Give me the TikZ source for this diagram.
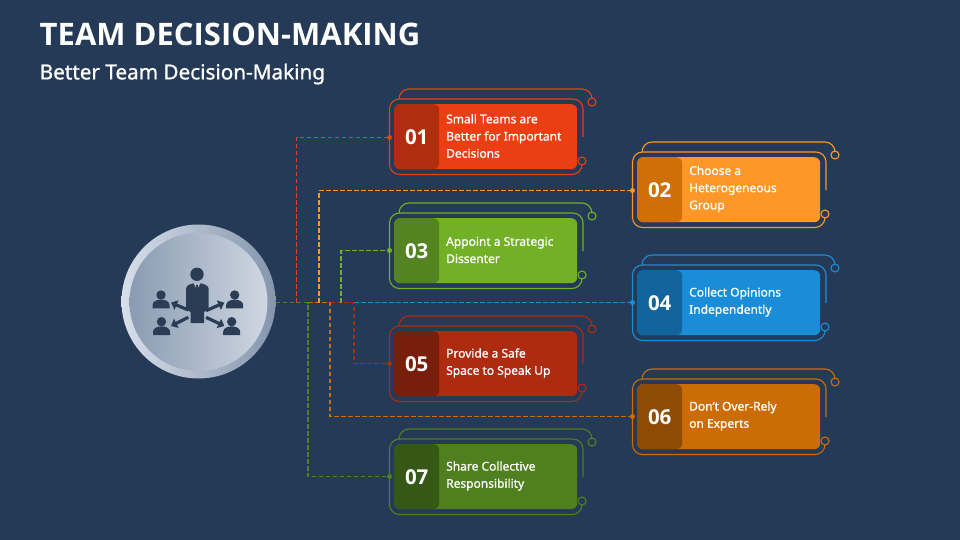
\documentclass[tikz,border=0pt]{standalone}
\usepackage{fontspec}
\setmainfont{Noto Sans}
\newfontfamily\bodyf[FakeBold=1]{Noto Sans}
\newfontfamily\headf{Open Sans}
\usetikzlibrary{arrows.meta}
\definecolor{bg}{HTML}{243A56}
\definecolor{icon}{HTML}{2B3D55}
\definecolor{hubL}{HTML}{8A9BB2}\definecolor{hubR}{HTML}{CFD7E2}
\definecolor{rimL}{HTML}{D8DFEA}\definecolor{rimR}{HTML}{8495AD}
\definecolor{ca}{HTML}{EC3E13}\definecolor{cad}{HTML}{B02E0E}
\definecolor{cb}{HTML}{FD9727}\definecolor{cbd}{HTML}{CF6F06}
\definecolor{cc}{HTML}{72B026}\definecolor{ccd}{HTML}{548420}
\definecolor{cd}{HTML}{1A8DD8}\definecolor{cdd}{HTML}{11649E}
\definecolor{ce}{HTML}{AF2B0F}\definecolor{ced}{HTML}{781E0A}
\definecolor{cf}{HTML}{CC6C04}\definecolor{cfd}{HTML}{8E4B03}
\definecolor{cg}{HTML}{4F7F1F}\definecolor{cgd}{HTML}{365816}
\tikzset{
  x=1pt,y=-1pt,
  cardbody/.style={rounded corners=6pt,minimum width=183pt,minimum height=65pt,inner sep=0pt,anchor=north west},
  numbox/.style={rounded corners=6pt,minimum width=45pt,minimum height=65pt,inner sep=0pt,anchor=north west,text=white,font=\headf\fontsize{20.5}{20.5}\selectfont\bfseries},
  cardtext/.style={anchor=west,align=left,inner sep=0pt,text=white,font=\bodyf\fontsize{12}{17.2}\selectfont},
  ringline/.style={line width=1.1pt,rounded corners=10pt},
  ringdot/.style={line width=1.1pt},
  link/.style={line width=1.1pt,dash pattern=on 4.5pt off 2.5pt},
  iconarrow/.style={icon,line width=3.2pt,-{Triangle[length=6pt,width=10pt]}},
}
\newcommand{\card}[8]{% name,x,y,fill,dark,num,text,dot y offset
  \draw[ringline,#4] (#2+5,#3-5) -- (#2+5,#3-15) -- (#2+198,#3-15) -- (#2+198,#3-6);
  \draw[ringdot,#4] (#2+198,#3-2) circle[radius=4];
  \draw[ringline,#4] (#2+189,#3+33) -- (#2+189,#3-5) -- (#2-4.5,#3-5) -- (#2-4.5,#3+70.5) -- (#2+188,#3+70.5) -- (#2+188,#3+61);
  \draw[ringdot,#4] (#2+188,#3+57) circle[radius=4];
  \node[cardbody,fill=#4] (#1) at (#2,#3) {};
  \node[numbox,fill=#5] (#1n) at (#2,#3) {#6};
  \node[cardtext] (#1t) at (#2+52,#3+32) {#7};
  \coordinate (#1p) at (#2-4.5,#3+#8);
  \fill[#4] (#1p) circle[radius=2.5];
}
\newcommand{\person}[2]{% head x, head y
  \fill[icon] (#1,#2) circle[radius=4.7];
  \fill[icon] (#1-8.5,#2+13.3) -- (#1-8.5,#2+10) .. controls (#1-8.5,#2+6.5) and (#1-4,#2+4.6) .. (#1,#2+4.6) .. controls (#1+4,#2+4.6) and (#1+8.5,#2+6.5) .. (#1+8.5,#2+10) -- (#1+8.5,#2+13.3) -- cycle;
}
\begin{document}
\begin{tikzpicture}
\useasboundingbox (0,0) rectangle (960,540);
\fill[bg] (0,0) rectangle (960,540);
\node[anchor=west,inner sep=0pt,text=white,font=\headf\fontsize{31}{31}\selectfont\bfseries] (title) at (39.5,34.5) {TEAM DECISION-MAKING};
\node[anchor=west,inner sep=0pt,text=white,font=\bodyf\fontsize{20.7}{20.7}\selectfont] (sub) at (39.5,74) {Better Team Decision-Making};

\card{c1}{394}{104}{ca}{cad}{01}{Small Teams are\\Better for Important\\Decisions}{33.5}
\card{c2}{637}{157}{cb}{cbd}{02}{Choose a\\Heterogeneous\\Group}{33.5}
\card{c3}{394}{218}{cc}{ccd}{03}{Appoint a Strategic\\Dissenter}{32.5}
\card{c4}{637}{270}{cd}{cdd}{04}{Collect Opinions\\Independently}{32.5}
\card{c5}{394}{331}{ce}{ced}{05}{Provide a Safe\\Space to Speak Up}{32.5}
\card{c6}{637}{384}{cf}{cfd}{06}{Don’t Over-Rely\\on Experts}{32.5}
\card{c7}{394}{444}{cg}{cgd}{07}{Share Collective\\Responsibility}{32.5}

% hub circle
\node[circle,minimum size=154pt,inner sep=0pt,left color=rimL,right color=rimR] (hubouter) at (198.5,301.5) {};
\node[circle,minimum size=138pt,inner sep=0pt,left color=hubL,right color=hubR] (hub) at (198.5,302) {};

% junctions on the shared trunk
\coordinate (jh) at (hubouter.east |- c4p);
\coordinate (ja) at (296.5,302.5);
\coordinate (jg) at (308,302.5);
\coordinate (jb) at (319,302.5);
\coordinate (jf) at (330,302.5);
\coordinate (jc) at (341,302.5);
\coordinate (je) at (354,302.5);

% connectors
\draw[link,cd] (je) -- (c4p);
\draw[link,ce] (jf) -- (je) |- (c5p);
\draw[link,cc] (jc) |- (c3p);
\draw[link,cf] (jg) -- (jf) |- (c6p);
\draw[link,cb] (jb) |- (c2p);
\draw[link,ca] (ja) |- (c1p);
\draw[link,cg] (jh) -- (jg) |- (c7p);

% icon
\fill[icon] (197,274.3) circle[radius=6.7];
\fill[icon] (186,289) .. controls (186,285.5) and (190,284) .. (193.5,283.3) -- (197,290) -- (200.5,283.3) .. controls (204,284) and (208.7,285.5) .. (208.7,289) -- (208.7,309) -- (204,312) -- (204,323) -- (190.5,323) -- (190.5,312) -- (186,309) -- cycle;
\fill[white!75!icon] (194.5,283.8) -- (197,290) -- (199.5,283.8) -- cycle;
\fill[icon] (196,284.5) -- (198,284.5) -- (198.4,292) -- (197,294) -- (195.6,292) -- cycle;
\person{161}{295}
\person{234.7}{295}
\person{161.5}{321.7}
\person{231.7}{321.7}
\draw[iconarrow] (188.3,310) -- (171,302.7);
\draw[iconarrow] (188.3,317.3) -- (171,326);
\draw[iconarrow] (206,310.7) -- (224.3,302.7);
\draw[iconarrow] (206,317.3) -- (224.3,326);
\end{tikzpicture}
\end{document}
